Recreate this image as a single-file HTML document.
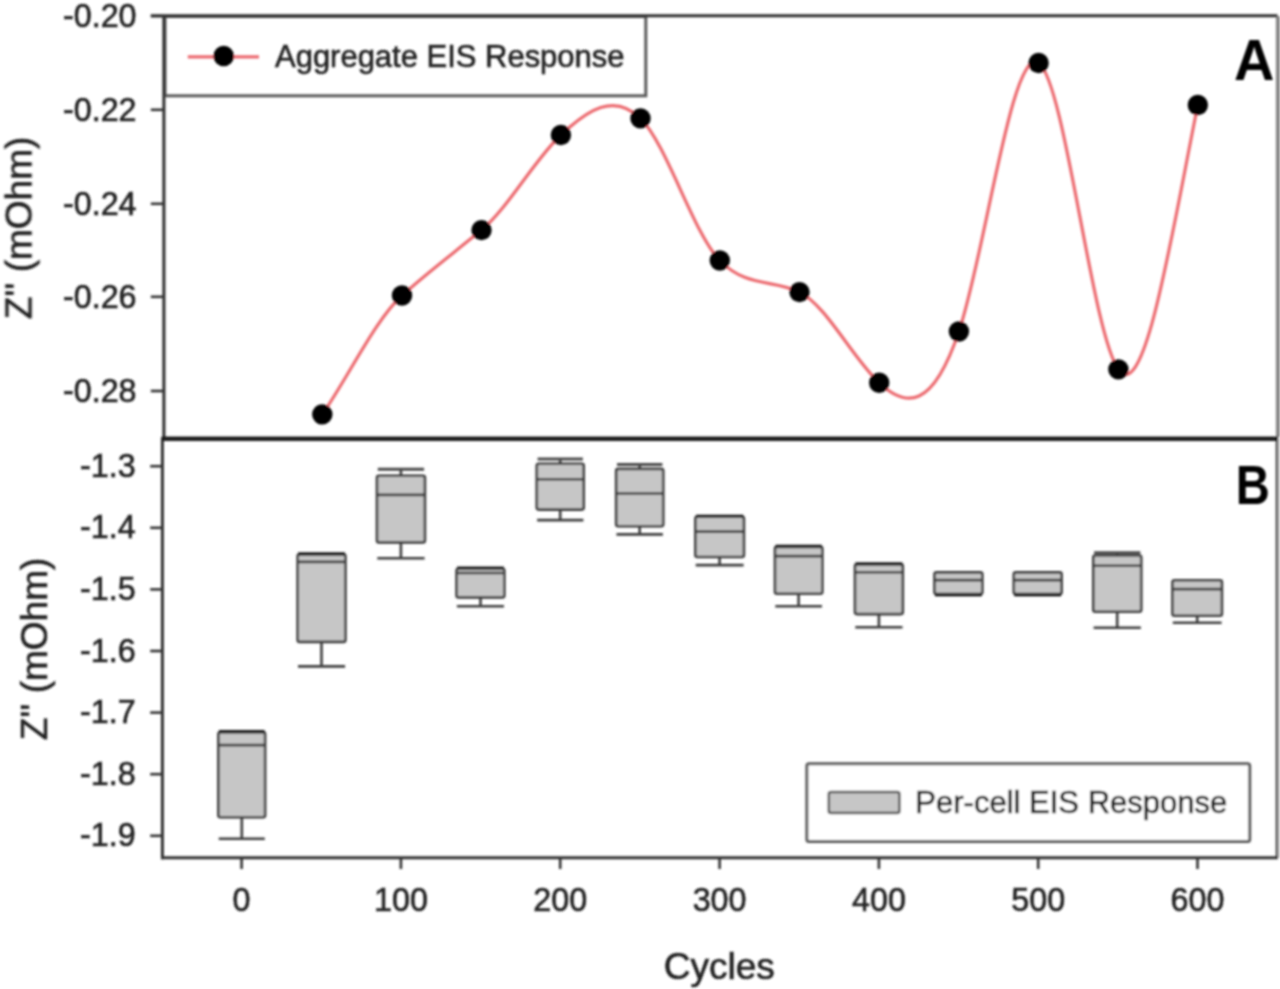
<!DOCTYPE html>
<html><head><meta charset="utf-8"><title>EIS Response</title>
<style>html,body{margin:0;padding:0;background:#fff;}body{width:1280px;height:989px;overflow:hidden;}svg{display:block;}</style>
</head><body>
<svg width="1280" height="989" viewBox="0 0 1280 989" font-family="Liberation Sans, Arial, sans-serif">
<defs><filter id="soft" x="0" y="0" width="100%" height="100%" filterUnits="userSpaceOnUse"><feGaussianBlur stdDeviation="1.0"/></filter></defs>
<rect x="0" y="0" width="1280" height="989" fill="#ffffff"/>
<g filter="url(#soft)">
<rect x="165" y="16.5" width="480.8" height="79.3" fill="none" stroke="#5a5a5a" stroke-width="3"/>
<g fill="none" stroke-linecap="butt">
<line x1="1277.9" y1="16.3" x2="1277.9" y2="437" stroke="#858585" stroke-width="4"/>
<line x1="150.8" y1="15.8" x2="1277.5" y2="15.8" stroke="#2e2e2e" stroke-width="3.0"/>
<line x1="163.9" y1="15" x2="163.9" y2="438" stroke="#333333" stroke-width="3.1"/>
<line x1="150.8" y1="16.1" x2="163.8" y2="16.1" stroke="#333333" stroke-width="2.6"/>
<line x1="150.8" y1="109.8" x2="163.8" y2="109.8" stroke="#333333" stroke-width="2.6"/>
<line x1="150.8" y1="203.8" x2="163.8" y2="203.8" stroke="#333333" stroke-width="2.6"/>
<line x1="150.8" y1="296.8" x2="163.8" y2="296.8" stroke="#333333" stroke-width="2.6"/>
<line x1="150.8" y1="391.0" x2="163.8" y2="391.0" stroke="#333333" stroke-width="2.6"/>
</g>
<line x1="187.8" y1="56.9" x2="259" y2="56.9" stroke="#ec6a70" stroke-width="3.4"/>
<circle cx="223.7" cy="56" r="10.3" fill="#000"/>
<text x="275" y="66.8" font-size="31" fill="#222222" stroke="#222222" stroke-width="0.6" textLength="349.5" lengthAdjust="spacingAndGlyphs">Aggregate EIS Response</text>
<path d="M322.30,414.40 C348.87,375.90 375.43,319.57 402.00,295.50 C428.50,271.49 455.00,252.03 481.50,230.10 C507.97,208.20 534.43,159.80 560.90,135.00 C587.43,110.14 613.97,92.18 640.50,118.40 C666.93,144.52 693.37,233.32 719.80,260.50 C746.37,287.81 772.93,279.15 799.50,292.10 C826.07,305.05 852.63,357.97 879.20,382.80 C905.77,407.63 932.33,410.28 958.90,331.50 C985.47,252.72 1012.03,44.53 1038.60,63.00 C1065.20,81.49 1091.80,332.78 1118.40,369.40 C1144.87,405.84 1171.33,235.59 1197.80,105.00" fill="none" stroke="#ec6a70" stroke-width="3.2"/>
<circle cx="322.3" cy="414.4" r="10.2" fill="#000"/>
<circle cx="402.0" cy="295.5" r="10.2" fill="#000"/>
<circle cx="481.5" cy="230.1" r="10.2" fill="#000"/>
<circle cx="560.9" cy="135.0" r="10.2" fill="#000"/>
<circle cx="640.5" cy="118.4" r="10.2" fill="#000"/>
<circle cx="719.8" cy="260.5" r="10.2" fill="#000"/>
<circle cx="799.5" cy="292.1" r="10.2" fill="#000"/>
<circle cx="879.2" cy="382.8" r="10.2" fill="#000"/>
<circle cx="958.9" cy="331.5" r="10.2" fill="#000"/>
<circle cx="1038.6" cy="63.0" r="10.2" fill="#000"/>
<circle cx="1118.4" cy="369.4" r="10.2" fill="#000"/>
<circle cx="1197.8" cy="105.0" r="10.2" fill="#000"/>
<text x="1234.0" y="80" font-size="56.5" font-weight="bold" fill="#000" transform="translate(1236 80) scale(0.99 1) translate(-1236 -80)">A</text>
<text x="136.6" y="27.4" font-size="32.3" fill="#222222" stroke="#222222" stroke-width="0.6" text-anchor="end">-0.20</text>
<text x="136.6" y="121.1" font-size="32.3" fill="#222222" stroke="#222222" stroke-width="0.6" text-anchor="end">-0.22</text>
<text x="136.6" y="215.1" font-size="32.3" fill="#222222" stroke="#222222" stroke-width="0.6" text-anchor="end">-0.24</text>
<text x="136.6" y="308.1" font-size="32.3" fill="#222222" stroke="#222222" stroke-width="0.6" text-anchor="end">-0.26</text>
<text x="136.6" y="402.3" font-size="32.3" fill="#222222" stroke="#222222" stroke-width="0.6" text-anchor="end">-0.28</text>
<g fill="none">
<line x1="1277" y1="438" x2="1277" y2="858" stroke="#4a4a4a" stroke-width="2.6"/>
<line x1="1279" y1="438" x2="1279" y2="858" stroke="#c8c8c8" stroke-width="2"/>
<line x1="162.4" y1="437" x2="162.4" y2="859.3" stroke="#333333" stroke-width="3"/>
<line x1="161" y1="857.8" x2="1278" y2="857.8" stroke="#333333" stroke-width="3"/>
<line x1="162" y1="438.8" x2="1278" y2="438.8" stroke="#1e1e1e" stroke-width="4.6"/>
<line x1="150.2" y1="466.2" x2="162.4" y2="466.2" stroke="#333333" stroke-width="2.6"/>
<line x1="150.2" y1="527.8" x2="162.4" y2="527.8" stroke="#333333" stroke-width="2.6"/>
<line x1="150.2" y1="589.4" x2="162.4" y2="589.4" stroke="#333333" stroke-width="2.6"/>
<line x1="150.2" y1="651.0" x2="162.4" y2="651.0" stroke="#333333" stroke-width="2.6"/>
<line x1="150.2" y1="712.6" x2="162.4" y2="712.6" stroke="#333333" stroke-width="2.6"/>
<line x1="150.2" y1="774.2" x2="162.4" y2="774.2" stroke="#333333" stroke-width="2.6"/>
<line x1="150.2" y1="835.8" x2="162.4" y2="835.8" stroke="#333333" stroke-width="2.6"/>
<line x1="241.6" y1="857.8" x2="241.6" y2="869" stroke="#333333" stroke-width="2.6"/>
<line x1="400.9" y1="857.8" x2="400.9" y2="869" stroke="#333333" stroke-width="2.6"/>
<line x1="560.2" y1="857.8" x2="560.2" y2="869" stroke="#333333" stroke-width="2.6"/>
<line x1="719.6" y1="857.8" x2="719.6" y2="869" stroke="#333333" stroke-width="2.6"/>
<line x1="878.9" y1="857.8" x2="878.9" y2="869" stroke="#333333" stroke-width="2.6"/>
<line x1="1038.2" y1="857.8" x2="1038.2" y2="869" stroke="#333333" stroke-width="2.6"/>
<line x1="1197.5" y1="857.8" x2="1197.5" y2="869" stroke="#333333" stroke-width="2.6"/>
</g>
<text x="135.6" y="476.7" font-size="32.3" fill="#222222" stroke="#222222" stroke-width="0.6" text-anchor="end">-1.3</text>
<text x="135.6" y="538.3" font-size="32.3" fill="#222222" stroke="#222222" stroke-width="0.6" text-anchor="end">-1.4</text>
<text x="135.6" y="599.9" font-size="32.3" fill="#222222" stroke="#222222" stroke-width="0.6" text-anchor="end">-1.5</text>
<text x="135.6" y="661.5" font-size="32.3" fill="#222222" stroke="#222222" stroke-width="0.6" text-anchor="end">-1.6</text>
<text x="135.6" y="723.1" font-size="32.3" fill="#222222" stroke="#222222" stroke-width="0.6" text-anchor="end">-1.7</text>
<text x="135.6" y="784.7" font-size="32.3" fill="#222222" stroke="#222222" stroke-width="0.6" text-anchor="end">-1.8</text>
<text x="135.6" y="846.3" font-size="32.3" fill="#222222" stroke="#222222" stroke-width="0.6" text-anchor="end">-1.9</text>
<text x="241.6" y="911.4" font-size="32.3" fill="#222222" stroke="#222222" stroke-width="0.6" text-anchor="middle">0</text>
<text x="400.9" y="911.4" font-size="32.3" fill="#222222" stroke="#222222" stroke-width="0.6" text-anchor="middle">100</text>
<text x="560.2" y="911.4" font-size="32.3" fill="#222222" stroke="#222222" stroke-width="0.6" text-anchor="middle">200</text>
<text x="719.6" y="911.4" font-size="32.3" fill="#222222" stroke="#222222" stroke-width="0.6" text-anchor="middle">300</text>
<text x="878.9" y="911.4" font-size="32.3" fill="#222222" stroke="#222222" stroke-width="0.6" text-anchor="middle">400</text>
<text x="1038.2" y="911.4" font-size="32.3" fill="#222222" stroke="#222222" stroke-width="0.6" text-anchor="middle">500</text>
<text x="1197.5" y="911.4" font-size="32.3" fill="#222222" stroke="#222222" stroke-width="0.6" text-anchor="middle">600</text>
<g stroke="#3e3e3e" stroke-width="2.6" stroke-linejoin="round">
<rect x="218.4" y="732.2" width="46.7" height="85.1" rx="2" fill="#c6c6c6"/>
<line x1="218.4" y1="745.1" x2="265.1" y2="745.1"/>
<line x1="218.9" y1="731.7" x2="264.6" y2="731.7" stroke="#1e1e1e" stroke-width="3.2"/>
<line x1="241.8" y1="817.3" x2="241.8" y2="838.8"/>
<line x1="218.7" y1="838.8" x2="264.8" y2="838.8"/>
<rect x="297.7" y="554.4" width="47.7" height="87.5" rx="2" fill="#c6c6c6"/>
<line x1="297.7" y1="561.9" x2="345.4" y2="561.9"/>
<line x1="298.2" y1="553.9" x2="344.9" y2="553.9" stroke="#1e1e1e" stroke-width="3.2"/>
<line x1="321.5" y1="641.9" x2="321.5" y2="666.4"/>
<line x1="298.0" y1="666.4" x2="345.1" y2="666.4"/>
<rect x="377.0" y="475.7" width="47.9" height="66.7" rx="2" fill="#c6c6c6"/>
<line x1="377.0" y1="494.9" x2="424.9" y2="494.9"/>
<line x1="400.9" y1="469.2" x2="400.9" y2="475.7"/>
<line x1="377.8" y1="469.2" x2="424.1" y2="469.2" stroke="#4a4a4a" stroke-width="3"/>
<line x1="400.9" y1="542.4" x2="400.9" y2="558.2"/>
<line x1="377.3" y1="558.2" x2="424.6" y2="558.2"/>
<rect x="456.6" y="568.7" width="47.7" height="28.7" rx="2" fill="#c6c6c6"/>
<line x1="456.6" y1="573.0" x2="504.3" y2="573.0"/>
<line x1="457.1" y1="568.2" x2="503.8" y2="568.2" stroke="#1e1e1e" stroke-width="3.2"/>
<line x1="480.5" y1="597.4" x2="480.5" y2="606.3"/>
<line x1="456.9" y1="606.3" x2="504.0" y2="606.3"/>
<rect x="536.8" y="463.8" width="46.9" height="45.8" rx="2" fill="#c6c6c6"/>
<line x1="536.8" y1="479.3" x2="583.7" y2="479.3"/>
<line x1="560.2" y1="459.1" x2="560.2" y2="463.8"/>
<line x1="537.6" y1="459.1" x2="582.9" y2="459.1" stroke="#4a4a4a" stroke-width="3"/>
<line x1="560.2" y1="509.6" x2="560.2" y2="520.1"/>
<line x1="537.1" y1="520.1" x2="583.4" y2="520.1"/>
<rect x="616.2" y="468.9" width="47.0" height="57.4" rx="2" fill="#c6c6c6"/>
<line x1="616.2" y1="493.5" x2="663.2" y2="493.5"/>
<line x1="639.7" y1="464.4" x2="639.7" y2="468.9"/>
<line x1="617.0" y1="464.4" x2="662.4" y2="464.4" stroke="#4a4a4a" stroke-width="3"/>
<line x1="639.7" y1="526.3" x2="639.7" y2="534.4"/>
<line x1="616.5" y1="534.4" x2="662.9" y2="534.4"/>
<rect x="695.4" y="516.8" width="48.5" height="40.2" rx="2" fill="#c6c6c6"/>
<line x1="695.4" y1="531.6" x2="743.9" y2="531.6"/>
<line x1="695.9" y1="516.3" x2="743.4" y2="516.3" stroke="#1e1e1e" stroke-width="3.2"/>
<line x1="719.6" y1="557.0" x2="719.6" y2="565.1"/>
<line x1="695.7" y1="565.1" x2="743.6" y2="565.1"/>
<rect x="775.0" y="546.9" width="47.3" height="46.8" rx="2" fill="#c6c6c6"/>
<line x1="775.0" y1="556.1" x2="822.3" y2="556.1"/>
<line x1="775.5" y1="546.4" x2="821.8" y2="546.4" stroke="#1e1e1e" stroke-width="3.2"/>
<line x1="798.6" y1="593.7" x2="798.6" y2="606.3"/>
<line x1="775.3" y1="606.3" x2="822.0" y2="606.3"/>
<rect x="855.0" y="564.3" width="47.8" height="49.8" rx="2" fill="#c6c6c6"/>
<line x1="855.0" y1="572.3" x2="902.8" y2="572.3"/>
<line x1="855.5" y1="563.8" x2="902.3" y2="563.8" stroke="#1e1e1e" stroke-width="3.2"/>
<line x1="878.9" y1="614.1" x2="878.9" y2="627.3"/>
<line x1="855.3" y1="627.3" x2="902.5" y2="627.3"/>
<rect x="934.5" y="572.4" width="47.8" height="21.6" rx="2" fill="#c6c6c6"/>
<line x1="934.5" y1="580.1" x2="982.3" y2="580.1"/>
<line x1="935.0" y1="594.6" x2="981.8" y2="594.6" stroke="#111" stroke-width="3.4"/>
<rect x="1013.8" y="572.4" width="47.8" height="21.6" rx="2" fill="#c6c6c6"/>
<line x1="1013.8" y1="580.1" x2="1061.6" y2="580.1"/>
<line x1="1014.3" y1="594.6" x2="1061.1" y2="594.6" stroke="#111" stroke-width="3.4"/>
<rect x="1093.3" y="555.5" width="47.9" height="56.3" rx="2" fill="#c6c6c6"/>
<line x1="1093.3" y1="565.8" x2="1141.2" y2="565.8"/>
<line x1="1117.2" y1="552.7" x2="1117.2" y2="555.5"/>
<line x1="1094.1" y1="552.7" x2="1140.4" y2="552.7" stroke="#4a4a4a" stroke-width="3"/>
<line x1="1117.2" y1="611.8" x2="1117.2" y2="627.7"/>
<line x1="1093.6" y1="627.7" x2="1140.9" y2="627.7"/>
<rect x="1172.5" y="580.2" width="49.4" height="35.6" rx="2" fill="#c6c6c6"/>
<line x1="1172.5" y1="589.1" x2="1221.9" y2="589.1"/>
<line x1="1197.2" y1="615.8" x2="1197.2" y2="622.7"/>
<line x1="1172.8" y1="622.7" x2="1221.6" y2="622.7"/>
</g>
<rect x="806.9" y="763.8" width="442.8" height="77.6" rx="2" fill="#fff" stroke="#5a5a5a" stroke-width="3"/>
<rect x="828.8" y="791.9" width="70.6" height="21.2" rx="2" fill="#c6c6c6" stroke="#555" stroke-width="2.5"/>
<text x="915.3" y="812.6" font-size="31" fill="#222222" stroke="#222222" stroke-width="0.6" textLength="312" lengthAdjust="spacingAndGlyphs">Per-cell EIS Response</text>
<text x="1235.8" y="504.5" font-size="56" font-weight="bold" fill="#000" transform="translate(1236 504.5) scale(0.843 1) translate(-1236 -504.5)">B</text>
<text x="719.3" y="978.5" font-size="37" fill="#222222" stroke="#222222" stroke-width="0.6" text-anchor="middle">Cycles</text>
<text transform="translate(31.5 228) rotate(-90)" font-size="37" fill="#222222" stroke="#222222" stroke-width="0.6" text-anchor="middle">Z'' (mOhm)</text>
<text transform="translate(47 649) rotate(-90)" font-size="37" fill="#222222" stroke="#222222" stroke-width="0.6" text-anchor="middle">Z'' (mOhm)</text>
</g>
</svg>
</body></html>
